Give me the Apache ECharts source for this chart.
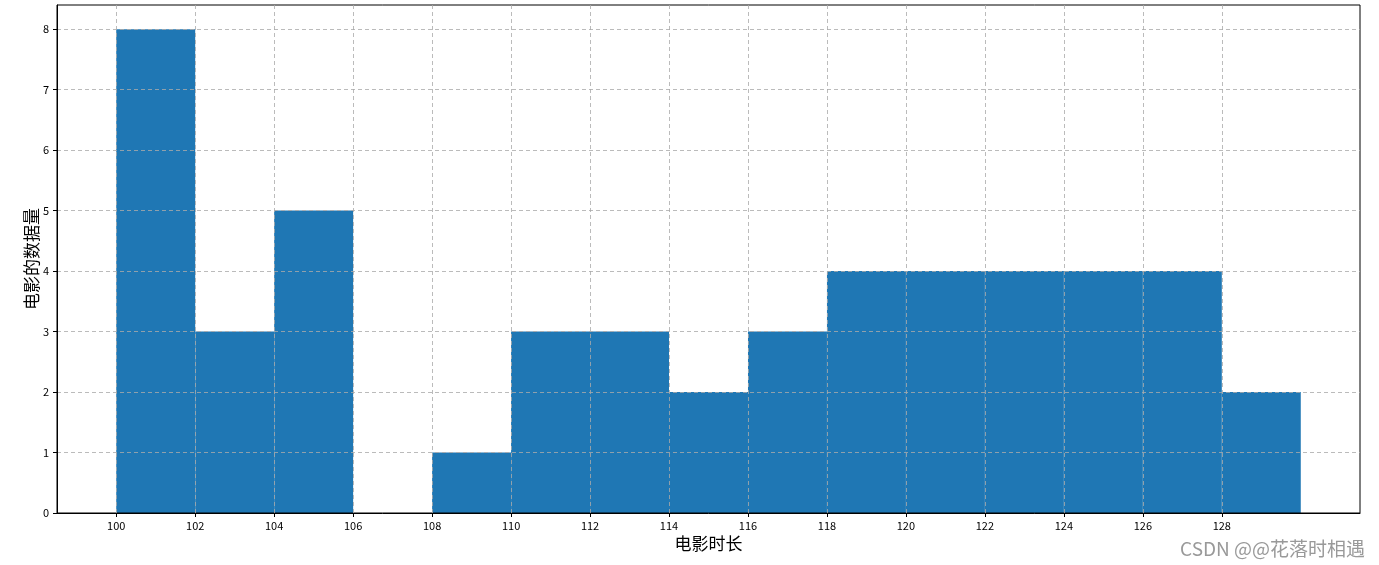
<!DOCTYPE html>
<html><head><meta charset="utf-8">
<script src="https://cdn.jsdelivr.net/npm/echarts@6/dist/echarts.min.js"></script>
<style>html,body{margin:0;padding:0;background:#fff}#c{width:1379px;height:565px}</style>
</head><body><div id="c"></div>
<script>
const binStarts = [100,102,104,106,108,110,112,114,116,118,120,122,124,126,128];
const binWidth = 2;
const counts = [8,3,5,0,1,3,3,2,3,4,4,4,4,4,2];
const xTicks = [100,102,104,106,108,110,112,114,116,118,120,122,124,126,128];
const yTicks = [0,1,2,3,4,5,6,7,8];
const xLabel = '电影时长';
const yLabel = '电影的数据量';
const watermark = 'CSDN @@花落时相遇';

const data = binStarts.map((s,i)=>[s, s+binWidth, counts[i]]);
const font = '"Noto Sans CJK SC", sans-serif';
const chart = echarts.init(document.getElementById('c'), null, {renderer:'canvas'});
chart.setOption({
  animation:false,
  grid:{left:57,right:19,top:5,bottom:52,show:true,borderColor:'#000',borderWidth:1,z:5},
  xAxis:{type:'value',min:98.5,max:131.5,z:5,
    name:xLabel,nameLocation:'middle',nameGap:22,nameMoveOverlap:false,nameTextStyle:{fontFamily:font,fontSize:17,color:'#000'},
    axisLine:{show:true,onZero:false,lineStyle:{color:'#000'}},
    axisTick:{show:true,length:4,customValues:xTicks,lineStyle:{color:'#000'}},
    axisLabel:{customValues:xTicks,fontFamily:font,fontSize:11,color:'#000',margin:7},
    splitLine:{show:true,lineStyle:{color:'rgba(170,170,170,0.8)',type:[4,3],width:1}}
  },
  yAxis:{type:'value',min:0,max:8.4,z:5,
    name:yLabel,nameLocation:'middle',nameGap:17,nameMoveOverlap:false,nameRotate:90,nameTextStyle:{fontFamily:font,fontSize:17,color:'#000'},
    axisLine:{show:true,onZero:false,lineStyle:{color:'#000'}},
    axisTick:{show:true,length:4,customValues:yTicks,lineStyle:{color:'#000'}},
    axisLabel:{customValues:yTicks,fontFamily:font,fontSize:11,color:'#000',margin:8},
    splitLine:{show:true,lineStyle:{color:'rgba(170,170,170,0.8)',type:[4,3],width:1}}
  },
  graphic:[{type:'text',right:14,bottom:7,style:{text:watermark,font:'19px '+font,fill:'#999'}}],
  series:[{type:'custom',z:1,data:data,
    encode:{x:[0,1],y:2},
    renderItem:function(params,api){
      const p0 = api.coord([api.value(0), api.value(2)]);
      const p1 = api.coord([api.value(1), 0]);
      return {type:'rect',shape:{x:p0[0],y:p0[1],width:p1[0]-p0[0],height:p1[1]-p0[1]},style:{fill:'#1f77b4'}};
    }
  }]
});
</script></body></html>
